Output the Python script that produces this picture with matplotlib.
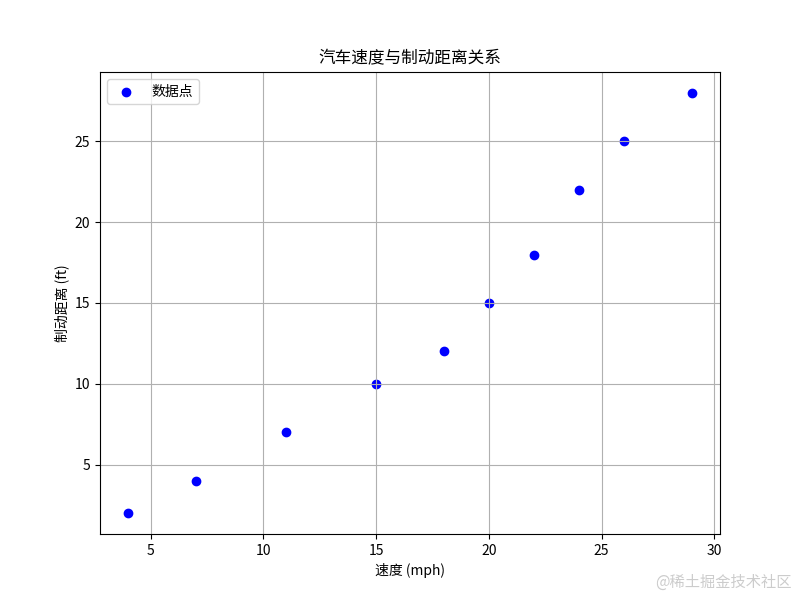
import matplotlib
matplotlib.use("Agg")
import matplotlib.pyplot as plt

plt.rcParams['font.family'] = ['Noto Sans CJK SC', 'DejaVu Sans']

# 速度 (mph) 和 制动距离 (ft)
speed = [4, 7, 11, 15, 18, 20, 22, 24, 26, 29]
distance = [2, 4, 7, 10, 12, 15, 18, 22, 25, 28]

fig = plt.figure(figsize=(8, 6), dpi=100)
plt.scatter(speed, distance, color='blue', label='数据点')
plt.title('汽车速度与制动距离关系')
plt.xlabel('速度 (mph)')
plt.ylabel('制动距离 (ft)')
plt.legend(loc='upper left')
plt.grid(True)

fig.text(0.99, 0.015, '@稀土掘金技术社区', ha='right', va='bottom',
         fontsize=11, color='#cccccc')

plt.savefig('out.png', dpi=100)
